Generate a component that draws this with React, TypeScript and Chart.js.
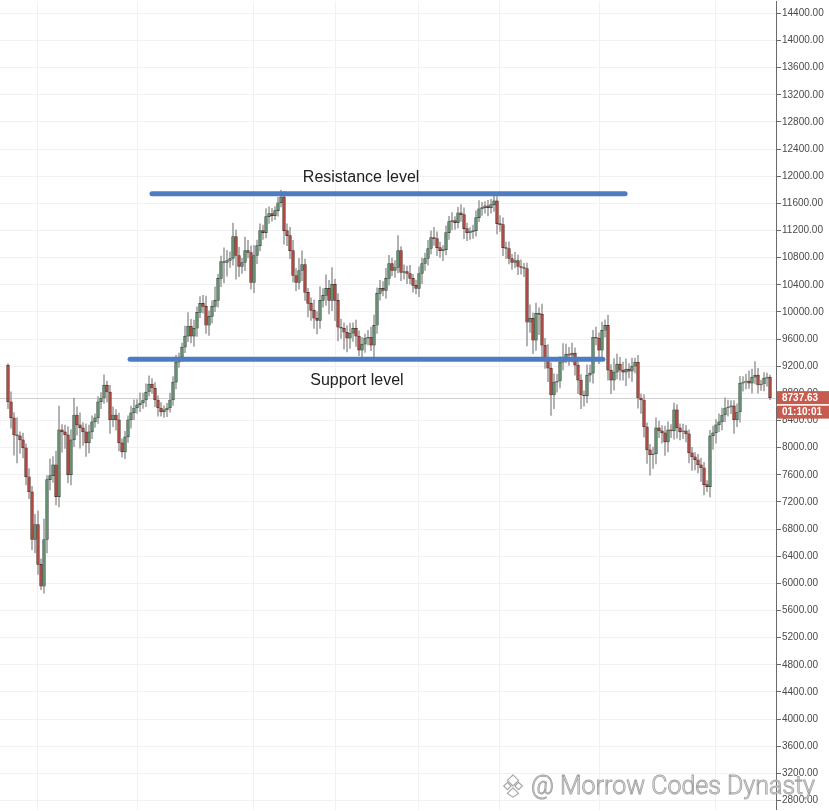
import React, { useEffect, useRef } from "react";
import { Chart, registerables } from "chart.js";

Chart.register(...registerables);

// ---- Data (BTC-style candles) ----
const firstOpen = 9217;
const closes = [
  8674, 8438, 8189, 8174, 8115, 7998, 7572, 7350, 6647, 6867,
  6280, 5957, 6647, 7528, 7587, 7748, 7278, 8262, 8233, 8189,
  7601, 8115, 8482, 8335, 8291, 8233, 8071, 8233, 8380, 8438,
  8674, 8732, 8923, 8820, 8409, 8482, 8409, 8071, 7939, 8159,
  8409, 8512, 8585, 8630, 8659, 8703, 8820, 8938, 8879, 8703,
  8585, 8526, 8556, 8585, 8703, 8967, 9261, 9334, 9481, 9643,
  9790, 9643, 9760, 9995, 10127, 10083, 9804, 9936, 10083, 10171,
  10494, 10744, 10729, 10758, 10788, 11111, 10832, 10670, 10729, 10905,
  10876, 10435, 10832, 10979, 11199, 11170, 11405, 11449, 11420, 11493,
  11610, 11698, 11199, 11126, 10905, 10538, 10435, 10611, 10700, 10289,
  10127, 10024, 9907, 9877, 10171, 10245, 10347, 10171, 10406, 10171,
  9775, 9760, 9701, 9613, 9687, 9760, 9643, 9437, 9525, 9613,
  9628, 9510, 9804, 10274, 10347, 10318, 10494, 10714, 10611, 10656,
  10905, 10582, 10596, 10567, 10494, 10391, 10347, 10567, 10714, 10788,
  10935, 11096, 11082, 10949, 10905, 10920, 11170, 11331, 11346, 11317,
  11463, 11434, 11229, 11170, 11185, 11199, 11390, 11522, 11537, 11566,
  11537, 11581, 11639, 11302, 11287, 10949, 10935, 10788, 10729, 10758,
  10670, 10656, 10641, 9848, 9907, 9584, 9980, 9965, 9510, 9319,
  9172, 8776, 8967, 8982, 9261, 9334, 9378, 9363, 9393, 9217,
  8996, 8776, 8762, 9070, 9099, 9628, 9613, 9437, 9730, 9804,
  9143, 8996, 9114, 9231, 9143, 9114, 9158, 9128, 9202, 9261,
  8732, 8703, 8306, 7968, 7895, 7910, 8291, 8247, 8218, 8086,
  8262, 8247, 8556, 8291, 8233, 8248, 8203, 7924, 7866, 7822,
  7748, 7704, 7455, 7425, 8174, 8218, 8335, 8380, 8482, 8585,
  8600, 8615, 8409, 8526, 8952, 8967, 8982, 8952, 9040, 9070,
  8923, 8938, 9026, 9041, 8737.63,
];
const wickUp = [
  20, 150, 80, 250, 60, 100, 60, 120, 80, 150, 200, 80, 300, 60, 250,
  120, 200, 350, 80, 100, 120, 150, 250, 120, 180, 80, 120, 100, 90, 60,
  80, 80, 150, 60, 100, 120, 80, 100, 60, 80, 60, 100, 120, 80, 150,
  100, 120, 120, 80, 80, 60, 80, 60, 70, 100, 80, 100, 60, 60, 150,
  200, 100, 120, 80, 100, 120, 150, 80, 80, 200, 60, 80, 200, 150, 100,
  200, 100, 120, 60, 200, 150, 100, 150, 80, 100, 80, 120, 100, 80, 60,
  80, 100, 80, 100, 120, 150, 100, 180, 200, 80, 60, 80, 150, 100, 200,
  100, 200, 120, 250, 80, 100, 120, 80, 100, 150, 80, 120, 80, 100, 60,
  100, 150, 150, 80, 120, 100, 150, 120, 80, 100, 220, 60, 100, 80, 120,
  60, 80, 100, 80, 80, 120, 100, 150, 100, 80, 60, 100, 80, 120, 60,
  80, 120, 100, 80, 60, 80, 100, 120, 80, 60, 80, 80, 80, 60, 120,
  100, 80, 100, 60, 120, 80, 100, 60, 80, 200, 80, 150, 80, 150, 100,
  200, 80, 120, 100, 80, 200, 150, 100, 150, 80, 60, 80, 60, 150, 120,
  100, 150, 80, 120, 80, 150, 80, 200, 150, 100, 120, 150, 80, 120, 60,
  100, 60, 80, 60, 80, 100, 150, 100, 80, 100, 120, 80, 100, 80, 60,
  100, 80, 60, 80, 60, 80, 100, 80, 60, 80, 100, 80, 120, 100, 150,
  100, 80, 80, 120, 100, 80, 100, 150, 120, 200, 100, 60, 80, 60, 30,
];
const wickDown = [
  100, 150, 300, 400, 200, 150, 120, 100, 150, 200, 150, 50, 100, 200, 150,
  100, 120, 150, 300, 200, 120, 150, 100, 150, 300, 200, 200, 150, 100, 80,
  80, 100, 80, 150, 200, 100, 150, 120, 80, 100, 80, 120, 100, 80, 100,
  80, 100, 60, 80, 100, 120, 60, 80, 100, 60, 80, 100, 80, 60, 80,
  80, 100, 150, 120, 80, 100, 120, 150, 100, 80, 100, 120, 300, 200, 100,
  100, 350, 150, 100, 120, 80, 100, 150, 120, 80, 100, 80, 100, 80, 60,
  80, 60, 200, 150, 120, 100, 120, 100, 150, 120, 200, 150, 150, 200, 120,
  100, 150, 200, 150, 300, 200, 150, 250, 200, 150, 120, 150, 80, 100, 120,
  100, 80, 200, 120, 100, 80, 120, 100, 80, 100, 80, 120, 100, 150, 80,
  100, 80, 120, 150, 100, 100, 80, 100, 120, 100, 150, 80, 100, 120, 100,
  80, 100, 150, 120, 100, 100, 80, 60, 100, 80, 120, 80, 100, 150, 100,
  120, 150, 80, 100, 80, 120, 100, 120, 350, 150, 200, 150, 300, 200, 150,
  200, 300, 200, 150, 100, 120, 80, 150, 100, 150, 200, 200, 150, 100, 100,
  150, 100, 200, 120, 100, 150, 200, 150, 100, 150, 120, 200, 100, 150, 100,
  150, 200, 150, 200, 300, 200, 150, 100, 150, 200, 150, 100, 120, 150, 120,
  100, 120, 150, 200, 150, 120, 200, 150, 73, 150, 200, 150, 100, 120, 100,
  120, 100, 200, 100, 150, 120, 100, 80, 150, 100, 120, 80, 100, 120, 30,
];

const yTickValues = [
  2800, 3200, 3600, 4000, 4400, 4800, 5200, 5600, 6000, 6400, 6800, 7200,
  7600, 8000, 8400, 8800, 9200, 9600, 10000, 10400, 10800, 11200, 11600,
  12000, 12400, 12800, 13200, 13600, 14000, 14400,
];
// vertical (date) grid lines, in candle-index units
const xGridIdx = [9.7, 43, 81.7, 109, 136.7, 164, 197.3, 235.7];

const resistanceLevel = 11742;
const resistanceSpan = [48, 205.7];
const supportLevel = 9305;
const supportSpan = [40.7, 198.3];
const resistanceLabel = "Resistance level";
const supportLabel = "Support level";
const labelIdx = [117.7, 116.3];

const lastPrice = 8737.63;
const countdown = "01:10:01";

const UP_FILL = "#658f71";
const UP_BORDER = "#2f4035";
const DOWN_FILL = "#ad4b42";
const DOWN_BORDER = "#4a201c";
const WICK = "#a3a3a3";

export default function App() {
  const ref = useRef<HTMLCanvasElement | null>(null);

  useEffect(() => {
    const canvas = ref.current;
    if (!canvas) return;

    const opens = closes.map((_, i) => (i === 0 ? firstOpen : closes[i - 1]));
    const bodies = closes.map((c, i) => ({ x: i, y: [opens[i], c] }));
    const wicks = closes.map((c, i) => ({
      x: i,
      y: [Math.min(opens[i], c) - wickDown[i], Math.max(opens[i], c) + wickUp[i]],
    }));
    const up = closes.map((c, i) => c >= opens[i]);

    const overlay = {
      id: "overlay",
      beforeDatasetsDraw(chart: any) {
        const { ctx, chartArea, scales } = chart;
        const y = Math.round(scales.y.getPixelForValue(lastPrice)) + 0.5;
        ctx.save();
        ctx.strokeStyle = "#cfcfcf";
        ctx.lineWidth = 1;
        ctx.beginPath();
        ctx.moveTo(chartArea.left, y);
        ctx.lineTo(chartArea.right, y);
        ctx.stroke();
        ctx.restore();
      },
      afterDraw(chart: any) {
        const { ctx, chartArea, scales } = chart;
        const xs = scales.x;
        const ys = scales.y;
        ctx.save();
        // level labels
        ctx.fillStyle = "#222";
        ctx.font = '16px "Liberation Sans", Arial, sans-serif';
        ctx.textAlign = "center";
        ctx.textBaseline = "middle";
        ctx.fillText(
          resistanceLabel,
          xs.getPixelForValue(labelIdx[0]),
          ys.getPixelForValue(resistanceLevel) - 16
        );
        ctx.fillText(
          supportLabel,
          xs.getPixelForValue(labelIdx[1]),
          ys.getPixelForValue(supportLevel) + 21
        );
        // price tags
        const py = ys.getPixelForValue(lastPrice);
        const left = chartArea.right + 1;
        const right = chart.width;
        ctx.fillStyle = "#c65c50";
        ctx.fillRect(left, py - 6.5, right - left, 13);
        ctx.fillRect(left, py + 8, right - left, 13);
        ctx.strokeStyle = "rgba(255,255,255,0.7)";
        ctx.setLineDash([1, 1]);
        ctx.beginPath();
        ctx.moveTo(left, py + 7.5);
        ctx.lineTo(right, py + 7.5);
        ctx.stroke();
        ctx.fillStyle = "#ffffff";
        ctx.font = 'bold 10px "Liberation Sans", Arial, sans-serif';
        ctx.textAlign = "left";
        ctx.fillText(lastPrice.toFixed(2), left + 5, py + 0.5);
        ctx.fillText(countdown, left + 5, py + 14.5);
        ctx.restore();
      },
    };

    const chart = new Chart(canvas, {
      type: "bar",
      data: {
        datasets: [
          {
            type: "line",
            data: [
              { x: resistanceSpan[0], y: resistanceLevel },
              { x: resistanceSpan[1], y: resistanceLevel },
            ],
            borderColor: "#4d7cc3",
            borderWidth: 5,
            borderCapStyle: "round",
            pointRadius: 0,
            order: 0,
          } as any,
          {
            type: "line",
            data: [
              { x: supportSpan[0], y: supportLevel },
              { x: supportSpan[1], y: supportLevel },
            ],
            borderColor: "#4d7cc3",
            borderWidth: 5,
            borderCapStyle: "round",
            pointRadius: 0,
            order: 0,
          } as any,
          {
            data: bodies as any,
            backgroundColor: up.map((u) => (u ? UP_FILL : DOWN_FILL)),
            borderColor: up.map((u) => (u ? UP_BORDER : DOWN_BORDER)),
            borderWidth: 0.7,
            borderSkipped: false,
            barThickness: 2.8,
            minBarLength: 1,
            grouped: false,
            order: 2,
          } as any,
          {
            data: wicks as any,
            backgroundColor: WICK,
            borderWidth: 0,
            barThickness: 1,
            grouped: false,
            order: 3,
          } as any,
        ],
      },
      options: {
        animation: false,
        responsive: true,
        maintainAspectRatio: false,
        layout: { padding: 0 },
        plugins: {
          legend: { display: false },
          tooltip: { enabled: false },
        },
        scales: {
          x: {
            type: "linear",
            min: -8 / 3,
            max: 256,
            offset: false,
            ticks: { display: false },
            border: { display: false },
            grid: { color: "#f1f1f1", drawTicks: false, offset: false },
            afterBuildTicks: (s: any) => {
              s.ticks = xGridIdx.map((v) => ({ value: v }));
            },
            afterFit: (s: any) => {
              s.height = 0;
            },
          },
          y: {
            type: "linear",
            position: "right",
            min: 2667,
            max: 14576,
            afterBuildTicks: (s: any) => {
              s.ticks = yTickValues.map((v) => ({ value: v }));
            },
            afterFit: (s: any) => {
              s.width = 53;
            },
            ticks: {
              color: "#4a4a4a",
              font: {
                size: 10,
                lineHeight: 0.1,
                family: '"Liberation Sans", Arial, sans-serif',
              },
              padding: 1,
              callback: (v: any) => Number(v).toFixed(2),
            },
            border: { display: true, color: "#6a6a6a", width: 1 },
            grid: { color: "#f1f1f1", tickColor: "#6a6a6a", tickLength: 5 },
          },
        },
      },
      plugins: [overlay],
    });

    return () => chart.destroy();
  }, []);

  return (
    <div
      style={{
        position: "absolute",
        left: 0,
        top: 0,
        width: 829,
        height: 811,
        background: "#ffffff",
        overflow: "hidden",
      }}
    >
      <canvas ref={ref} />
      <div
        style={{
          position: "absolute",
          left: 500,
          top: 771,
          display: "flex",
          alignItems: "center",
          gap: 5,
          pointerEvents: "none",
          fontFamily: 'Roboto, "Noto Sans", sans-serif',
          fontWeight: 300,
          fontSize: 25,
          color: "rgba(238,238,238,0.9)",
          WebkitTextStroke: "0.9px #a4a4a4",
          whiteSpace: "nowrap",
        }}
      >
        <svg width="26" height="26" viewBox="0 0 28 28">
          <g fill="none" stroke="#a8a8a8" strokeWidth="1.3">
            <path d="M14 2 L20 8 L14 14 L8 8 Z" />
            <path d="M8 10 L12 14 L8 18 L4 14 Z" />
            <path d="M20 10 L24 14 L20 18 L16 14 Z" />
            <path d="M14 16 L20 22 L14 26 L8 22 Z" />
          </g>
        </svg>
        <span>@ Morrow Codes Dynasty</span>
      </div>
    </div>
  );
}
